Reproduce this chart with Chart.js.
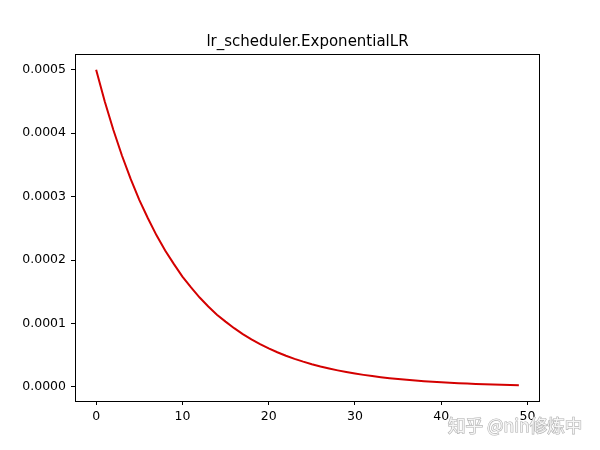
<!DOCTYPE html>
<html>
<head>
<meta charset="utf-8">
<script src="https://cdn.jsdelivr.net/npm/chart.js@4"></script>
<style>
  html, body { margin: 0; padding: 0; background: #fff; }
  #wrap { width: 600px; height: 450px; }
</style>
</head>
<body>
<div id="wrap"><canvas id="lrChart" width="600" height="450"></canvas></div>
<script>
// Learning rate per epoch
const epochs = [
  0, 1, 2, 3, 4, 5, 6, 7, 8, 9,
  10, 11, 12, 13, 14, 15, 16, 17, 18, 19,
  20, 21, 22, 23, 24, 25, 26, 27, 28, 29,
  30, 31, 32, 33, 34, 35, 36, 37, 38, 39,
  40, 41, 42, 43, 44, 45, 46, 47, 48, 49
];
const lrValues = [
  0.0005, 0.00045, 0.000405, 0.0003645, 0.000328, 0.000295, 0.000266, 0.000239, 0.000215, 0.000194,
  0.000174, 0.000157, 0.000141, 0.000127, 0.000114, 0.000103, 0.0000927, 0.0000834, 0.0000750, 0.0000675,
  0.0000608, 0.0000547, 0.0000492, 0.0000443, 0.0000399, 0.0000359, 0.0000323, 0.0000291, 0.0000262, 0.0000236,
  0.0000212, 0.0000191, 0.0000172, 0.0000155, 0.0000139, 0.0000125, 0.0000113, 0.0000101, 0.0000091, 0.0000082,
  0.0000074, 0.0000067, 0.0000060, 0.0000054, 0.0000048, 0.0000044, 0.0000039, 0.0000035, 0.0000032, 0.0000029
];
const xTicks = [0, 10, 20, 30, 40, 50];
const yTicks = [0, 0.0001, 0.0002, 0.0003, 0.0004, 0.0005];
const chartTitle = 'lr_scheduler.ExponentialLR';
const watermark = '知乎 @nin修炼中';

const FONT = '"DejaVu Sans", sans-serif';

// Title, frame and watermark drawn by hand (matplotlib look)
const decorPlugin = {
  id: 'decor',
  afterDraw(chart) {
    const ctx = chart.ctx;
    const a = chart.chartArea;
    ctx.save();
    ctx.strokeStyle = '#000';
    ctx.lineWidth = 1;
    ctx.strokeRect(Math.round(a.left) + 0.5, Math.round(a.top) + 0.5,
      Math.round(a.right - a.left) - 1, Math.round(a.bottom - a.top));

    ctx.fillStyle = '#000';
    ctx.font = '15px ' + FONT;
    ctx.textAlign = 'center';
    ctx.textBaseline = 'alphabetic';
    ctx.fillText(chartTitle, (a.left + a.right) / 2, 46);

    ctx.font = '17.5px "Noto Sans CJK SC", ' + FONT;
    ctx.textAlign = 'left';
    ctx.lineWidth = 1.2;
    ctx.strokeStyle = '#b0b0b0';
    ctx.strokeText(watermark, 448, 432);
    ctx.fillStyle = '#f6f6f6';
    ctx.fillText(watermark, 448, 432);
    ctx.restore();
  }
};

new Chart(document.getElementById('lrChart'), {
  type: 'line',
  data: {
    datasets: [{
      data: epochs.map((e, i) => ({ x: e, y: lrValues[i] })),
      borderColor: '#d40000',
      borderWidth: 2,
      pointRadius: 0,
      tension: 0,
      fill: false
    }]
  },
  options: {
    responsive: false,
    animation: false,
    events: [],
    layout: { padding: { left: 0, right: 60, top: 54, bottom: 0 } },
    plugins: {
      legend: { display: false },
      tooltip: { enabled: false },
      title: { display: false }
    },
    scales: {
      x: {
        type: 'linear',
        min: -2.45,
        max: 51.45,
        afterBuildTicks(scale) { scale.ticks = xTicks.map(v => ({ value: v })); },
        afterFit(scale) { scale.height = 49; },
        border: { display: false },
        grid: { drawOnChartArea: false, drawTicks: true, tickLength: 4, color: '#000', lineWidth: 1 },
        ticks: { color: '#000', font: { family: FONT, size: 12.5 }, padding: 4, maxRotation: 0 }
      },
      y: {
        type: 'linear',
        min: -0.0000221,
        max: 0.0005249,
        afterBuildTicks(scale) { scale.ticks = yTicks.map(v => ({ value: v })); },
        afterFit(scale) { scale.width = 75; },
        border: { display: false },
        grid: { drawOnChartArea: false, drawTicks: true, tickLength: 4, color: '#000', lineWidth: 1 },
        ticks: {
          color: '#000',
          font: { family: FONT, size: 12.5 },
          padding: 5,
          callback: v => v.toFixed(4)
        }
      }
    }
  },
  plugins: [decorPlugin]
});
</script>
</body>
</html>
